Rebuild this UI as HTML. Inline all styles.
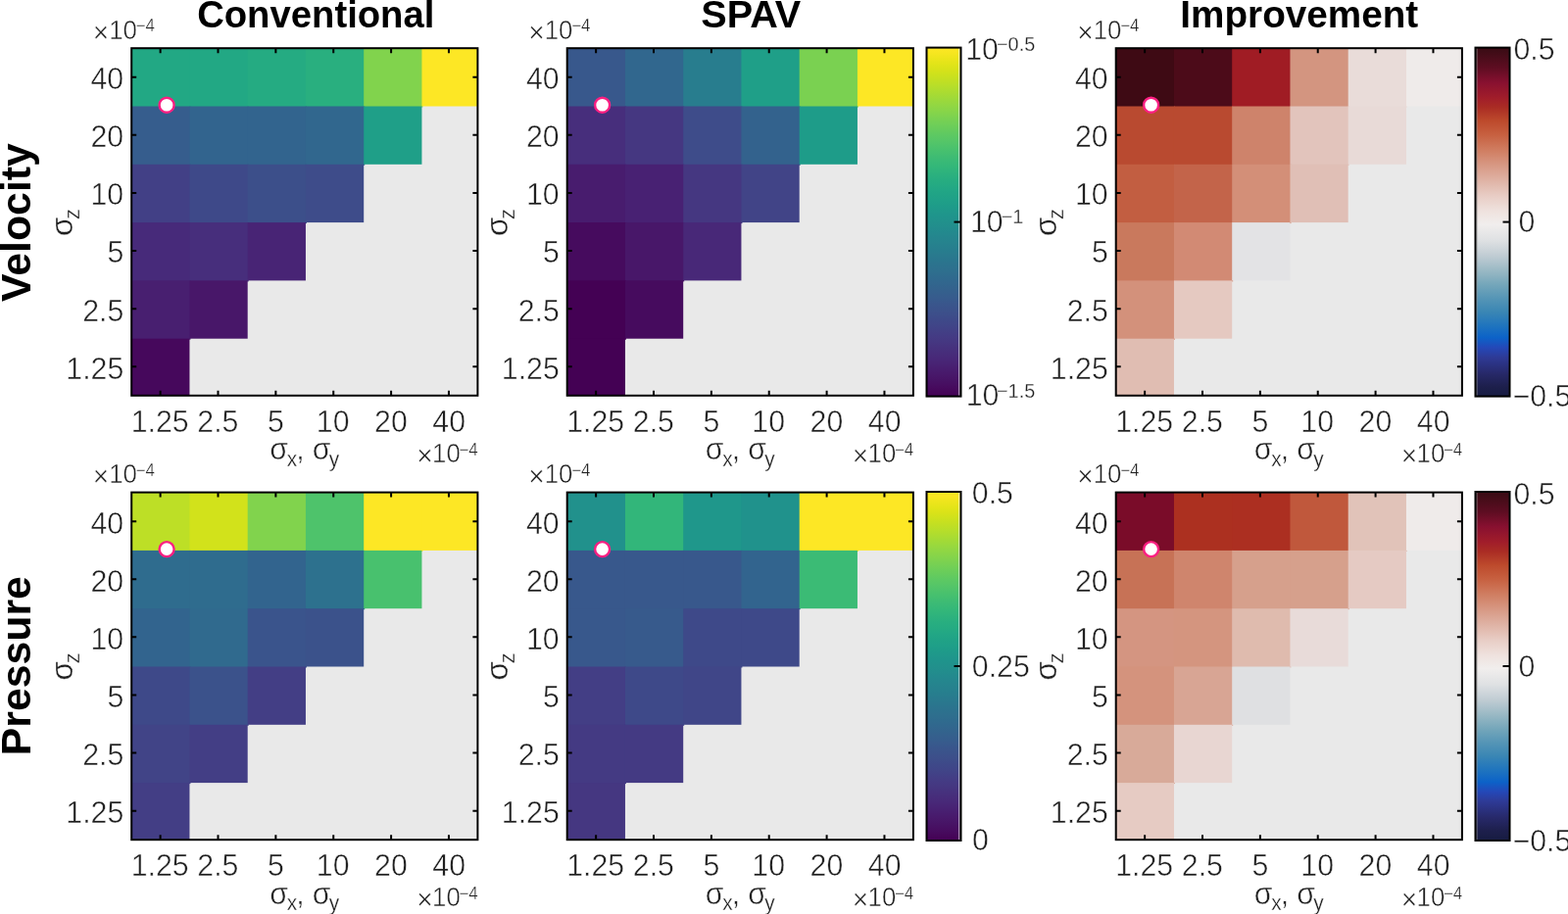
<!DOCTYPE html><html><head><meta charset="utf-8"><style>html,body{margin:0;padding:0;background:#fff;width:1600px;height:933px;overflow:hidden}svg{display:block}</style></head><body>
<svg width="1600" height="933" viewBox="0 0 1600 933">
<defs>
<linearGradient id="gv" x1="0" y1="0" x2="0" y2="1"><stop offset="0.000" stop-color="#fde725"/><stop offset="0.016" stop-color="#f6e620"/><stop offset="0.031" stop-color="#ece51b"/><stop offset="0.047" stop-color="#e2e418"/><stop offset="0.062" stop-color="#d8e219"/><stop offset="0.078" stop-color="#cde11d"/><stop offset="0.094" stop-color="#c2df23"/><stop offset="0.109" stop-color="#b8de29"/><stop offset="0.125" stop-color="#addc30"/><stop offset="0.141" stop-color="#a2da37"/><stop offset="0.156" stop-color="#98d83e"/><stop offset="0.172" stop-color="#8ed645"/><stop offset="0.188" stop-color="#84d44b"/><stop offset="0.203" stop-color="#7ad151"/><stop offset="0.219" stop-color="#70cf57"/><stop offset="0.234" stop-color="#67cc5c"/><stop offset="0.250" stop-color="#5ec962"/><stop offset="0.266" stop-color="#56c667"/><stop offset="0.281" stop-color="#4ec36b"/><stop offset="0.297" stop-color="#46c06f"/><stop offset="0.312" stop-color="#3fbc73"/><stop offset="0.328" stop-color="#38b977"/><stop offset="0.344" stop-color="#32b67a"/><stop offset="0.359" stop-color="#2db27d"/><stop offset="0.375" stop-color="#28ae80"/><stop offset="0.391" stop-color="#25ab82"/><stop offset="0.406" stop-color="#22a785"/><stop offset="0.422" stop-color="#20a386"/><stop offset="0.438" stop-color="#1fa088"/><stop offset="0.453" stop-color="#1e9c89"/><stop offset="0.469" stop-color="#1f988b"/><stop offset="0.484" stop-color="#1f948c"/><stop offset="0.500" stop-color="#21918c"/><stop offset="0.516" stop-color="#228d8d"/><stop offset="0.531" stop-color="#23898e"/><stop offset="0.547" stop-color="#25858e"/><stop offset="0.562" stop-color="#26828e"/><stop offset="0.578" stop-color="#277e8e"/><stop offset="0.594" stop-color="#297a8e"/><stop offset="0.609" stop-color="#2a768e"/><stop offset="0.625" stop-color="#2c728e"/><stop offset="0.641" stop-color="#2e6f8e"/><stop offset="0.656" stop-color="#2f6b8e"/><stop offset="0.672" stop-color="#31678e"/><stop offset="0.688" stop-color="#33638d"/><stop offset="0.703" stop-color="#355f8d"/><stop offset="0.719" stop-color="#375b8d"/><stop offset="0.734" stop-color="#39568c"/><stop offset="0.750" stop-color="#3b528b"/><stop offset="0.766" stop-color="#3d4e8a"/><stop offset="0.781" stop-color="#3e4989"/><stop offset="0.797" stop-color="#404588"/><stop offset="0.812" stop-color="#424086"/><stop offset="0.828" stop-color="#443b84"/><stop offset="0.844" stop-color="#453781"/><stop offset="0.859" stop-color="#46327e"/><stop offset="0.875" stop-color="#472d7b"/><stop offset="0.891" stop-color="#482878"/><stop offset="0.906" stop-color="#482374"/><stop offset="0.922" stop-color="#481d6f"/><stop offset="0.938" stop-color="#48186a"/><stop offset="0.953" stop-color="#471365"/><stop offset="0.969" stop-color="#470d60"/><stop offset="0.984" stop-color="#46075a"/><stop offset="1.000" stop-color="#440154"/></linearGradient>
<linearGradient id="gb" x1="0" y1="0" x2="0" y2="1"><stop offset="0.000" stop-color="rgb(60,11,20)"/><stop offset="0.010" stop-color="rgb(62,12,22)"/><stop offset="0.058" stop-color="rgb(94,13,34)"/><stop offset="0.100" stop-color="rgb(136,16,48)"/><stop offset="0.144" stop-color="rgb(161,29,42)"/><stop offset="0.171" stop-color="rgb(170,44,36)"/><stop offset="0.210" stop-color="rgb(189,74,44)"/><stop offset="0.250" stop-color="rgb(199,96,64)"/><stop offset="0.295" stop-color="rgb(208,126,98)"/><stop offset="0.340" stop-color="rgb(216,154,134)"/><stop offset="0.380" stop-color="rgb(223,178,164)"/><stop offset="0.425" stop-color="rgb(232,205,197)"/><stop offset="0.469" stop-color="rgb(239,226,222)"/><stop offset="0.507" stop-color="rgb(241,238,237)"/><stop offset="0.552" stop-color="rgb(223,225,227)"/><stop offset="0.597" stop-color="rgb(192,204,211)"/><stop offset="0.641" stop-color="rgb(152,184,196)"/><stop offset="0.680" stop-color="rgb(116,166,186)"/><stop offset="0.719" stop-color="rgb(85,149,182)"/><stop offset="0.758" stop-color="rgb(58,134,180)"/><stop offset="0.798" stop-color="rgb(31,116,190)"/><stop offset="0.832" stop-color="rgb(12,98,200)"/><stop offset="0.860" stop-color="rgb(36,72,184)"/><stop offset="0.888" stop-color="rgb(46,58,150)"/><stop offset="0.934" stop-color="rgb(39,41,106)"/><stop offset="0.972" stop-color="rgb(29,31,76)"/><stop offset="0.994" stop-color="rgb(24,28,67)"/><stop offset="1.000" stop-color="rgb(24,28,67)"/></linearGradient>
<clipPath id="ax00"><rect x="134.20" y="49.20" width="353.20" height="354.60"/></clipPath>
<clipPath id="ax01"><rect x="578.70" y="49.20" width="353.20" height="354.60"/></clipPath>
<clipPath id="ax02"><rect x="1138.70" y="49.20" width="353.20" height="354.60"/></clipPath>
<clipPath id="ax10"><rect x="134.20" y="502.60" width="353.20" height="354.60"/></clipPath>
<clipPath id="ax11"><rect x="578.70" y="502.60" width="353.20" height="354.60"/></clipPath>
<clipPath id="ax12"><rect x="1138.70" y="502.60" width="353.20" height="354.60"/></clipPath>
</defs>
<rect width="1600" height="933" fill="#fff"/>
<style>text{stroke:#fff;stroke-width:0.50px}text.s{stroke-width:0.3px}text.b{stroke:none}</style>
<g style="font-family:'Liberation Sans',Arial,sans-serif" fill="#202020">
<rect x="134.20" y="49.20" width="353.20" height="354.60" fill="#e9e9e9"/>
<g clip-path="url(#ax00)">
<rect x="134.20" y="49.20" width="60.25" height="60.30" fill="#22a884"/>
<rect x="193.45" y="49.20" width="60.25" height="60.30" fill="#22a884"/>
<rect x="252.70" y="49.20" width="60.25" height="60.30" fill="#25ab82"/>
<rect x="311.95" y="49.20" width="60.25" height="60.30" fill="#29af7f"/>
<rect x="371.20" y="49.20" width="60.25" height="60.30" fill="#81d34d"/>
<rect x="430.45" y="49.20" width="60.25" height="59.30" fill="#fde725"/>
<rect x="134.20" y="108.50" width="60.25" height="60.30" fill="#365d8d"/>
<rect x="193.45" y="108.50" width="60.25" height="60.30" fill="#32648e"/>
<rect x="252.70" y="108.50" width="60.25" height="60.30" fill="#32648e"/>
<rect x="311.95" y="108.50" width="60.25" height="60.30" fill="#31678e"/>
<rect x="371.20" y="108.50" width="59.25" height="59.30" fill="#1f9f88"/>
<rect x="134.20" y="167.80" width="60.25" height="60.30" fill="#424086"/>
<rect x="193.45" y="167.80" width="60.25" height="60.30" fill="#3e4989"/>
<rect x="252.70" y="167.80" width="60.25" height="60.30" fill="#3c4f8a"/>
<rect x="311.95" y="167.80" width="59.25" height="59.30" fill="#3e4c8a"/>
<rect x="134.20" y="227.10" width="60.25" height="60.30" fill="#472a7a"/>
<rect x="193.45" y="227.10" width="60.25" height="60.30" fill="#472e7c"/>
<rect x="252.70" y="227.10" width="59.25" height="59.30" fill="#482475"/>
<rect x="134.20" y="286.40" width="60.25" height="60.30" fill="#481f70"/>
<rect x="193.45" y="286.40" width="59.25" height="59.30" fill="#481769"/>
<rect x="134.20" y="345.70" width="59.25" height="60.30" fill="#46085c"/>
</g>
<circle cx="170.10" cy="107.20" r="7.5" fill="#fff" stroke="#fb1f82" stroke-width="2.4"/>
<path d="M163.63 49.20v5M163.63 403.80v-5M134.20 78.75h5M487.40 78.75h-5M222.50 49.20v5M222.50 403.80v-5M134.20 137.85h5M487.40 137.85h-5M281.37 49.20v5M281.37 403.80v-5M134.20 196.95h5M487.40 196.95h-5M340.23 49.20v5M340.23 403.80v-5M134.20 256.05h5M487.40 256.05h-5M399.10 49.20v5M399.10 403.80v-5M134.20 315.15h5M487.40 315.15h-5M457.97 49.20v5M457.97 403.80v-5M134.20 374.25h5M487.40 374.25h-5" stroke="#000" stroke-width="2" fill="none"/>
<rect x="134.20" y="49.20" width="353.20" height="354.60" fill="none" stroke="#000" stroke-width="2"/>
<rect x="578.70" y="49.20" width="353.20" height="354.60" fill="#e9e9e9"/>
<g clip-path="url(#ax01)">
<rect x="578.70" y="49.20" width="60.25" height="60.30" fill="#38588c"/>
<rect x="637.95" y="49.20" width="60.25" height="60.30" fill="#31678e"/>
<rect x="697.20" y="49.20" width="60.25" height="60.30" fill="#287d8e"/>
<rect x="756.45" y="49.20" width="60.25" height="60.30" fill="#1f9f88"/>
<rect x="815.70" y="49.20" width="60.25" height="60.30" fill="#7ad151"/>
<rect x="874.95" y="49.20" width="60.25" height="59.30" fill="#fde725"/>
<rect x="578.70" y="108.50" width="60.25" height="60.30" fill="#472e7c"/>
<rect x="637.95" y="108.50" width="60.25" height="60.30" fill="#453781"/>
<rect x="697.20" y="108.50" width="60.25" height="60.30" fill="#3e4c8a"/>
<rect x="756.45" y="108.50" width="60.25" height="60.30" fill="#33628d"/>
<rect x="815.70" y="108.50" width="59.25" height="59.30" fill="#1e9c89"/>
<rect x="578.70" y="167.80" width="60.25" height="60.30" fill="#481c6e"/>
<rect x="637.95" y="167.80" width="60.25" height="60.30" fill="#482173"/>
<rect x="697.20" y="167.80" width="60.25" height="60.30" fill="#453781"/>
<rect x="756.45" y="167.80" width="59.25" height="59.30" fill="#414487"/>
<rect x="578.70" y="227.10" width="60.25" height="60.30" fill="#460b5e"/>
<rect x="637.95" y="227.10" width="60.25" height="60.30" fill="#481769"/>
<rect x="697.20" y="227.10" width="59.25" height="59.30" fill="#482878"/>
<rect x="578.70" y="286.40" width="60.25" height="60.30" fill="#440154"/>
<rect x="637.95" y="286.40" width="59.25" height="59.30" fill="#460b5e"/>
<rect x="578.70" y="345.70" width="59.25" height="60.30" fill="#440154"/>
</g>
<circle cx="614.60" cy="107.20" r="7.5" fill="#fff" stroke="#fb1f82" stroke-width="2.4"/>
<path d="M608.13 49.20v5M608.13 403.80v-5M578.70 78.75h5M931.90 78.75h-5M667.00 49.20v5M667.00 403.80v-5M578.70 137.85h5M931.90 137.85h-5M725.87 49.20v5M725.87 403.80v-5M578.70 196.95h5M931.90 196.95h-5M784.73 49.20v5M784.73 403.80v-5M578.70 256.05h5M931.90 256.05h-5M843.60 49.20v5M843.60 403.80v-5M578.70 315.15h5M931.90 315.15h-5M902.47 49.20v5M902.47 403.80v-5M578.70 374.25h5M931.90 374.25h-5" stroke="#000" stroke-width="2" fill="none"/>
<rect x="578.70" y="49.20" width="353.20" height="354.60" fill="none" stroke="#000" stroke-width="2"/>
<rect x="1138.70" y="49.20" width="353.20" height="354.60" fill="#e9e9e9"/>
<g clip-path="url(#ax02)">
<rect x="1138.70" y="49.20" width="60.25" height="60.30" fill="#3e0a14"/>
<rect x="1197.95" y="49.20" width="60.25" height="60.30" fill="#4c0b19"/>
<rect x="1257.20" y="49.20" width="60.25" height="60.30" fill="#a01c24"/>
<rect x="1316.45" y="49.20" width="60.25" height="60.30" fill="#d39580"/>
<rect x="1375.70" y="49.20" width="60.25" height="60.30" fill="#e9dcd9"/>
<rect x="1434.95" y="49.20" width="60.25" height="59.30" fill="#efebea"/>
<rect x="1138.70" y="108.50" width="60.25" height="60.30" fill="#b94a30"/>
<rect x="1197.95" y="108.50" width="60.25" height="60.30" fill="#b94a30"/>
<rect x="1257.20" y="108.50" width="60.25" height="60.30" fill="#ce836b"/>
<rect x="1316.45" y="108.50" width="60.25" height="60.30" fill="#e2c4bc"/>
<rect x="1375.70" y="108.50" width="59.25" height="59.30" fill="#e8dad7"/>
<rect x="1138.70" y="167.80" width="60.25" height="60.30" fill="#c25e41"/>
<rect x="1197.95" y="167.80" width="60.25" height="60.30" fill="#c3644a"/>
<rect x="1257.20" y="167.80" width="60.25" height="60.30" fill="#d38f78"/>
<rect x="1316.45" y="167.80" width="59.25" height="59.30" fill="#e0bfb6"/>
<rect x="1138.70" y="227.10" width="60.25" height="60.30" fill="#c9795d"/>
<rect x="1197.95" y="227.10" width="60.25" height="60.30" fill="#d28a74"/>
<rect x="1257.20" y="227.10" width="59.25" height="59.30" fill="#e3e3e5"/>
<rect x="1138.70" y="286.40" width="60.25" height="60.30" fill="#d3917b"/>
<rect x="1197.95" y="286.40" width="59.25" height="59.30" fill="#e5c9c1"/>
<rect x="1138.70" y="345.70" width="59.25" height="60.30" fill="#e0bdb2"/>
</g>
<circle cx="1174.60" cy="107.20" r="7.5" fill="#fff" stroke="#fb1f82" stroke-width="2.4"/>
<path d="M1168.13 49.20v5M1168.13 403.80v-5M1138.70 78.75h5M1491.90 78.75h-5M1227.00 49.20v5M1227.00 403.80v-5M1138.70 137.85h5M1491.90 137.85h-5M1285.87 49.20v5M1285.87 403.80v-5M1138.70 196.95h5M1491.90 196.95h-5M1344.73 49.20v5M1344.73 403.80v-5M1138.70 256.05h5M1491.90 256.05h-5M1403.60 49.20v5M1403.60 403.80v-5M1138.70 315.15h5M1491.90 315.15h-5M1462.47 49.20v5M1462.47 403.80v-5M1138.70 374.25h5M1491.90 374.25h-5" stroke="#000" stroke-width="2" fill="none"/>
<rect x="1138.70" y="49.20" width="353.20" height="354.60" fill="none" stroke="#000" stroke-width="2"/>
<rect x="134.20" y="502.60" width="353.20" height="354.60" fill="#e9e9e9"/>
<g clip-path="url(#ax10)">
<rect x="134.20" y="502.60" width="60.25" height="60.30" fill="#bddf26"/>
<rect x="193.45" y="502.60" width="60.25" height="60.30" fill="#d2e21b"/>
<rect x="252.70" y="502.60" width="60.25" height="60.30" fill="#81d34d"/>
<rect x="311.95" y="502.60" width="60.25" height="60.30" fill="#4ec36b"/>
<rect x="371.20" y="502.60" width="60.25" height="60.30" fill="#fde725"/>
<rect x="430.45" y="502.60" width="60.25" height="59.30" fill="#fde725"/>
<rect x="134.20" y="561.90" width="60.25" height="60.30" fill="#2f6c8e"/>
<rect x="193.45" y="561.90" width="60.25" height="60.30" fill="#2f6c8e"/>
<rect x="252.70" y="561.90" width="60.25" height="60.30" fill="#32648e"/>
<rect x="311.95" y="561.90" width="60.25" height="60.30" fill="#2d718e"/>
<rect x="371.20" y="561.90" width="59.25" height="59.30" fill="#48c16e"/>
<rect x="134.20" y="621.20" width="60.25" height="60.30" fill="#32648e"/>
<rect x="193.45" y="621.20" width="60.25" height="60.30" fill="#306a8e"/>
<rect x="252.70" y="621.20" width="60.25" height="60.30" fill="#3a548c"/>
<rect x="311.95" y="621.20" width="59.25" height="59.30" fill="#3b528b"/>
<rect x="134.20" y="680.50" width="60.25" height="60.30" fill="#3e4989"/>
<rect x="193.45" y="680.50" width="60.25" height="60.30" fill="#3b528b"/>
<rect x="252.70" y="680.50" width="59.25" height="59.30" fill="#433e85"/>
<rect x="134.20" y="739.80" width="60.25" height="60.30" fill="#414487"/>
<rect x="193.45" y="739.80" width="59.25" height="59.30" fill="#433e85"/>
<rect x="134.20" y="799.10" width="59.25" height="60.30" fill="#433e85"/>
</g>
<circle cx="170.10" cy="560.60" r="7.5" fill="#fff" stroke="#fb1f82" stroke-width="2.4"/>
<path d="M163.63 502.60v5M163.63 857.20v-5M134.20 532.15h5M487.40 532.15h-5M222.50 502.60v5M222.50 857.20v-5M134.20 591.25h5M487.40 591.25h-5M281.37 502.60v5M281.37 857.20v-5M134.20 650.35h5M487.40 650.35h-5M340.23 502.60v5M340.23 857.20v-5M134.20 709.45h5M487.40 709.45h-5M399.10 502.60v5M399.10 857.20v-5M134.20 768.55h5M487.40 768.55h-5M457.97 502.60v5M457.97 857.20v-5M134.20 827.65h5M487.40 827.65h-5" stroke="#000" stroke-width="2" fill="none"/>
<rect x="134.20" y="502.60" width="353.20" height="354.60" fill="none" stroke="#000" stroke-width="2"/>
<rect x="578.70" y="502.60" width="353.20" height="354.60" fill="#e9e9e9"/>
<g clip-path="url(#ax11)">
<rect x="578.70" y="502.60" width="60.25" height="60.30" fill="#21918c"/>
<rect x="637.95" y="502.60" width="60.25" height="60.30" fill="#32b67a"/>
<rect x="697.20" y="502.60" width="60.25" height="60.30" fill="#1f978b"/>
<rect x="756.45" y="502.60" width="60.25" height="60.30" fill="#20928c"/>
<rect x="815.70" y="502.60" width="60.25" height="60.30" fill="#fde725"/>
<rect x="874.95" y="502.60" width="60.25" height="59.30" fill="#fde725"/>
<rect x="578.70" y="561.90" width="60.25" height="60.30" fill="#38588c"/>
<rect x="637.95" y="561.90" width="60.25" height="60.30" fill="#38588c"/>
<rect x="697.20" y="561.90" width="60.25" height="60.30" fill="#38588c"/>
<rect x="756.45" y="561.90" width="60.25" height="60.30" fill="#32648e"/>
<rect x="815.70" y="561.90" width="59.25" height="59.30" fill="#3bbb75"/>
<rect x="578.70" y="621.20" width="60.25" height="60.30" fill="#38588c"/>
<rect x="637.95" y="621.20" width="60.25" height="60.30" fill="#375a8c"/>
<rect x="697.20" y="621.20" width="60.25" height="60.30" fill="#3e4989"/>
<rect x="756.45" y="621.20" width="59.25" height="59.30" fill="#3e4989"/>
<rect x="578.70" y="680.50" width="60.25" height="60.30" fill="#433e85"/>
<rect x="637.95" y="680.50" width="60.25" height="60.30" fill="#3e4989"/>
<rect x="697.20" y="680.50" width="59.25" height="59.30" fill="#404688"/>
<rect x="578.70" y="739.80" width="60.25" height="60.30" fill="#443a83"/>
<rect x="637.95" y="739.80" width="59.25" height="59.30" fill="#443a83"/>
<rect x="578.70" y="799.10" width="59.25" height="60.30" fill="#453781"/>
</g>
<circle cx="614.60" cy="560.60" r="7.5" fill="#fff" stroke="#fb1f82" stroke-width="2.4"/>
<path d="M608.13 502.60v5M608.13 857.20v-5M578.70 532.15h5M931.90 532.15h-5M667.00 502.60v5M667.00 857.20v-5M578.70 591.25h5M931.90 591.25h-5M725.87 502.60v5M725.87 857.20v-5M578.70 650.35h5M931.90 650.35h-5M784.73 502.60v5M784.73 857.20v-5M578.70 709.45h5M931.90 709.45h-5M843.60 502.60v5M843.60 857.20v-5M578.70 768.55h5M931.90 768.55h-5M902.47 502.60v5M902.47 857.20v-5M578.70 827.65h5M931.90 827.65h-5" stroke="#000" stroke-width="2" fill="none"/>
<rect x="578.70" y="502.60" width="353.20" height="354.60" fill="none" stroke="#000" stroke-width="2"/>
<rect x="1138.70" y="502.60" width="353.20" height="354.60" fill="#e9e9e9"/>
<g clip-path="url(#ax12)">
<rect x="1138.70" y="502.60" width="60.25" height="60.30" fill="#7a0c29"/>
<rect x="1197.95" y="502.60" width="60.25" height="60.30" fill="#ac3020"/>
<rect x="1257.20" y="502.60" width="60.25" height="60.30" fill="#ac2f21"/>
<rect x="1316.45" y="502.60" width="60.25" height="60.30" fill="#c0583c"/>
<rect x="1375.70" y="502.60" width="60.25" height="60.30" fill="#e1c3b9"/>
<rect x="1434.95" y="502.60" width="60.25" height="59.30" fill="#efebea"/>
<rect x="1138.70" y="561.90" width="60.25" height="60.30" fill="#c77256"/>
<rect x="1197.95" y="561.90" width="60.25" height="60.30" fill="#cf856d"/>
<rect x="1257.20" y="561.90" width="60.25" height="60.30" fill="#d6a08c"/>
<rect x="1316.45" y="561.90" width="60.25" height="60.30" fill="#d6a08c"/>
<rect x="1375.70" y="561.90" width="59.25" height="59.30" fill="#e5cac3"/>
<rect x="1138.70" y="621.20" width="60.25" height="60.30" fill="#d49581"/>
<rect x="1197.95" y="621.20" width="60.25" height="60.30" fill="#d4957f"/>
<rect x="1257.20" y="621.20" width="60.25" height="60.30" fill="#dfbbae"/>
<rect x="1316.45" y="621.20" width="59.25" height="59.30" fill="#e8dbd9"/>
<rect x="1138.70" y="680.50" width="60.25" height="60.30" fill="#d4937d"/>
<rect x="1197.95" y="680.50" width="60.25" height="60.30" fill="#d8a594"/>
<rect x="1257.20" y="680.50" width="59.25" height="59.30" fill="#dfe0e2"/>
<rect x="1138.70" y="739.80" width="60.25" height="60.30" fill="#d8aa99"/>
<rect x="1197.95" y="739.80" width="59.25" height="59.30" fill="#e8d6d2"/>
<rect x="1138.70" y="799.10" width="59.25" height="60.30" fill="#e6cbc3"/>
</g>
<circle cx="1174.60" cy="560.60" r="7.5" fill="#fff" stroke="#fb1f82" stroke-width="2.4"/>
<path d="M1168.13 502.60v5M1168.13 857.20v-5M1138.70 532.15h5M1491.90 532.15h-5M1227.00 502.60v5M1227.00 857.20v-5M1138.70 591.25h5M1491.90 591.25h-5M1285.87 502.60v5M1285.87 857.20v-5M1138.70 650.35h5M1491.90 650.35h-5M1344.73 502.60v5M1344.73 857.20v-5M1138.70 709.45h5M1491.90 709.45h-5M1403.60 502.60v5M1403.60 857.20v-5M1138.70 768.55h5M1491.90 768.55h-5M1462.47 502.60v5M1462.47 857.20v-5M1138.70 827.65h5M1491.90 827.65h-5" stroke="#000" stroke-width="2" fill="none"/>
<rect x="1138.70" y="502.60" width="353.20" height="354.60" fill="none" stroke="#000" stroke-width="2"/>
<text transform="matrix(0.9680 0 0 1 92.49 91.14)" font-size="31.30">40</text>
<text transform="matrix(0.9680 0 0 1 133.64 440.89)" font-size="31.30">1.25</text>
<text transform="matrix(0.9680 0 0 1 92.49 150.24)" font-size="31.30">20</text>
<text transform="matrix(0.9680 0 0 1 201.32 440.89)" font-size="31.30">2.5</text>
<text transform="matrix(0.9680 0 0 1 92.49 209.34)" font-size="31.30">10</text>
<text transform="matrix(0.9680 0 0 1 272.97 440.89)" font-size="31.30">5</text>
<text transform="matrix(0.9680 0 0 1 109.43 268.44)" font-size="31.30">5</text>
<text transform="matrix(0.9680 0 0 1 322.83 440.89)" font-size="31.30">10</text>
<text transform="matrix(0.9680 0 0 1 84.16 327.54)" font-size="31.30">2.5</text>
<text transform="matrix(0.9680 0 0 1 382.09 440.89)" font-size="31.30">20</text>
<text transform="matrix(0.9680 0 0 1 67.31 386.64)" font-size="31.30">1.25</text>
<text transform="matrix(0.9680 0 0 1 441.36 440.89)" font-size="31.30">40</text>
<text transform="matrix(0.9680 0 0 1 275.23 469.19)" font-size="31.30">σ</text>
<text transform="matrix(0.9680 0 0 1 292.75 476.00)" font-size="21.50" class="s">x</text>
<text transform="matrix(0.9680 0 0 1 302.27 469.20)" font-size="31.30">,</text>
<text transform="matrix(0.9680 0 0 1 318.73 469.19)" font-size="31.30">σ</text>
<text transform="matrix(0.9680 0 0 1 335.74 475.50)" font-size="21.50" class="s">y</text>
<text transform="matrix(0.9680 0 0 1 425.33 474.69)" font-size="29.00">×</text>
<text transform="matrix(0.9680 0 0 1 441.04 472.03)" font-size="26.70">10</text>
<text transform="matrix(0.9680 0 0 1 468.47 464.80)" font-size="17.50" class="s">−4</text>
<text transform="matrix(0.9680 0 0 1 94.63 42.89)" font-size="29.00">×</text>
<text transform="matrix(0.9680 0 0 1 111.24 39.93)" font-size="26.70">10</text>
<text transform="matrix(0.9680 0 0 1 138.67 32.40)" font-size="17.50" class="s">−4</text>
<text transform="translate(73.90 241.00) rotate(-90)" font-size="31.3" class="s">σ</text>
<text transform="translate(80.80 223.90) rotate(-90)" font-size="21.5" class="s">z</text>
<text transform="matrix(0.9680 0 0 1 536.99 91.14)" font-size="31.30">40</text>
<text transform="matrix(0.9680 0 0 1 578.14 440.89)" font-size="31.30">1.25</text>
<text transform="matrix(0.9680 0 0 1 536.99 150.24)" font-size="31.30">20</text>
<text transform="matrix(0.9680 0 0 1 645.82 440.89)" font-size="31.30">2.5</text>
<text transform="matrix(0.9680 0 0 1 536.99 209.34)" font-size="31.30">10</text>
<text transform="matrix(0.9680 0 0 1 717.47 440.89)" font-size="31.30">5</text>
<text transform="matrix(0.9680 0 0 1 553.93 268.44)" font-size="31.30">5</text>
<text transform="matrix(0.9680 0 0 1 767.33 440.89)" font-size="31.30">10</text>
<text transform="matrix(0.9680 0 0 1 528.66 327.54)" font-size="31.30">2.5</text>
<text transform="matrix(0.9680 0 0 1 826.59 440.89)" font-size="31.30">20</text>
<text transform="matrix(0.9680 0 0 1 511.81 386.64)" font-size="31.30">1.25</text>
<text transform="matrix(0.9680 0 0 1 885.86 440.89)" font-size="31.30">40</text>
<text transform="matrix(0.9680 0 0 1 719.73 469.19)" font-size="31.30">σ</text>
<text transform="matrix(0.9680 0 0 1 737.25 476.00)" font-size="21.50" class="s">x</text>
<text transform="matrix(0.9680 0 0 1 746.77 469.20)" font-size="31.30">,</text>
<text transform="matrix(0.9680 0 0 1 763.23 469.19)" font-size="31.30">σ</text>
<text transform="matrix(0.9680 0 0 1 780.24 475.50)" font-size="21.50" class="s">y</text>
<text transform="matrix(0.9680 0 0 1 869.83 474.69)" font-size="29.00">×</text>
<text transform="matrix(0.9680 0 0 1 885.54 472.03)" font-size="26.70">10</text>
<text transform="matrix(0.9680 0 0 1 912.97 464.80)" font-size="17.50" class="s">−4</text>
<text transform="matrix(0.9680 0 0 1 539.13 42.89)" font-size="29.00">×</text>
<text transform="matrix(0.9680 0 0 1 555.74 39.93)" font-size="26.70">10</text>
<text transform="matrix(0.9680 0 0 1 583.17 32.40)" font-size="17.50" class="s">−4</text>
<text transform="translate(518.40 241.00) rotate(-90)" font-size="31.3" class="s">σ</text>
<text transform="translate(525.30 223.90) rotate(-90)" font-size="21.5" class="s">z</text>
<text transform="matrix(0.9680 0 0 1 1096.99 91.14)" font-size="31.30">40</text>
<text transform="matrix(0.9680 0 0 1 1138.14 440.89)" font-size="31.30">1.25</text>
<text transform="matrix(0.9680 0 0 1 1096.99 150.24)" font-size="31.30">20</text>
<text transform="matrix(0.9680 0 0 1 1205.82 440.89)" font-size="31.30">2.5</text>
<text transform="matrix(0.9680 0 0 1 1096.99 209.34)" font-size="31.30">10</text>
<text transform="matrix(0.9680 0 0 1 1277.47 440.89)" font-size="31.30">5</text>
<text transform="matrix(0.9680 0 0 1 1113.93 268.44)" font-size="31.30">5</text>
<text transform="matrix(0.9680 0 0 1 1327.33 440.89)" font-size="31.30">10</text>
<text transform="matrix(0.9680 0 0 1 1088.66 327.54)" font-size="31.30">2.5</text>
<text transform="matrix(0.9680 0 0 1 1386.59 440.89)" font-size="31.30">20</text>
<text transform="matrix(0.9680 0 0 1 1071.81 386.64)" font-size="31.30">1.25</text>
<text transform="matrix(0.9680 0 0 1 1445.86 440.89)" font-size="31.30">40</text>
<text transform="matrix(0.9680 0 0 1 1279.73 469.19)" font-size="31.30">σ</text>
<text transform="matrix(0.9680 0 0 1 1297.25 476.00)" font-size="21.50" class="s">x</text>
<text transform="matrix(0.9680 0 0 1 1306.77 469.20)" font-size="31.30">,</text>
<text transform="matrix(0.9680 0 0 1 1323.23 469.19)" font-size="31.30">σ</text>
<text transform="matrix(0.9680 0 0 1 1340.24 475.50)" font-size="21.50" class="s">y</text>
<text transform="matrix(0.9680 0 0 1 1429.83 474.69)" font-size="29.00">×</text>
<text transform="matrix(0.9680 0 0 1 1445.54 472.03)" font-size="26.70">10</text>
<text transform="matrix(0.9680 0 0 1 1472.97 464.80)" font-size="17.50" class="s">−4</text>
<text transform="matrix(0.9680 0 0 1 1099.13 42.89)" font-size="29.00">×</text>
<text transform="matrix(0.9680 0 0 1 1115.74 39.93)" font-size="26.70">10</text>
<text transform="matrix(0.9680 0 0 1 1143.17 32.40)" font-size="17.50" class="s">−4</text>
<text transform="translate(1078.40 241.00) rotate(-90)" font-size="31.3" class="s">σ</text>
<text transform="translate(1085.30 223.90) rotate(-90)" font-size="21.5" class="s">z</text>
<text transform="matrix(0.9680 0 0 1 92.49 544.54)" font-size="31.30">40</text>
<text transform="matrix(0.9680 0 0 1 133.64 894.29)" font-size="31.30">1.25</text>
<text transform="matrix(0.9680 0 0 1 92.49 603.64)" font-size="31.30">20</text>
<text transform="matrix(0.9680 0 0 1 201.32 894.29)" font-size="31.30">2.5</text>
<text transform="matrix(0.9680 0 0 1 92.49 662.74)" font-size="31.30">10</text>
<text transform="matrix(0.9680 0 0 1 272.97 894.29)" font-size="31.30">5</text>
<text transform="matrix(0.9680 0 0 1 109.43 721.84)" font-size="31.30">5</text>
<text transform="matrix(0.9680 0 0 1 322.83 894.29)" font-size="31.30">10</text>
<text transform="matrix(0.9680 0 0 1 84.16 780.94)" font-size="31.30">2.5</text>
<text transform="matrix(0.9680 0 0 1 382.09 894.29)" font-size="31.30">20</text>
<text transform="matrix(0.9680 0 0 1 67.31 840.04)" font-size="31.30">1.25</text>
<text transform="matrix(0.9680 0 0 1 441.36 894.29)" font-size="31.30">40</text>
<text transform="matrix(0.9680 0 0 1 275.23 922.59)" font-size="31.30">σ</text>
<text transform="matrix(0.9680 0 0 1 292.75 929.40)" font-size="21.50" class="s">x</text>
<text transform="matrix(0.9680 0 0 1 302.27 922.60)" font-size="31.30">,</text>
<text transform="matrix(0.9680 0 0 1 318.73 922.59)" font-size="31.30">σ</text>
<text transform="matrix(0.9680 0 0 1 335.74 928.90)" font-size="21.50" class="s">y</text>
<text transform="matrix(0.9680 0 0 1 425.33 928.09)" font-size="29.00">×</text>
<text transform="matrix(0.9680 0 0 1 441.04 925.43)" font-size="26.70">10</text>
<text transform="matrix(0.9680 0 0 1 468.47 918.20)" font-size="17.50" class="s">−4</text>
<text transform="matrix(0.9680 0 0 1 94.63 496.29)" font-size="29.00">×</text>
<text transform="matrix(0.9680 0 0 1 111.24 493.33)" font-size="26.70">10</text>
<text transform="matrix(0.9680 0 0 1 138.67 485.80)" font-size="17.50" class="s">−4</text>
<text transform="translate(73.90 694.40) rotate(-90)" font-size="31.3" class="s">σ</text>
<text transform="translate(80.80 677.30) rotate(-90)" font-size="21.5" class="s">z</text>
<text transform="matrix(0.9680 0 0 1 536.99 544.54)" font-size="31.30">40</text>
<text transform="matrix(0.9680 0 0 1 578.14 894.29)" font-size="31.30">1.25</text>
<text transform="matrix(0.9680 0 0 1 536.99 603.64)" font-size="31.30">20</text>
<text transform="matrix(0.9680 0 0 1 645.82 894.29)" font-size="31.30">2.5</text>
<text transform="matrix(0.9680 0 0 1 536.99 662.74)" font-size="31.30">10</text>
<text transform="matrix(0.9680 0 0 1 717.47 894.29)" font-size="31.30">5</text>
<text transform="matrix(0.9680 0 0 1 553.93 721.84)" font-size="31.30">5</text>
<text transform="matrix(0.9680 0 0 1 767.33 894.29)" font-size="31.30">10</text>
<text transform="matrix(0.9680 0 0 1 528.66 780.94)" font-size="31.30">2.5</text>
<text transform="matrix(0.9680 0 0 1 826.59 894.29)" font-size="31.30">20</text>
<text transform="matrix(0.9680 0 0 1 511.81 840.04)" font-size="31.30">1.25</text>
<text transform="matrix(0.9680 0 0 1 885.86 894.29)" font-size="31.30">40</text>
<text transform="matrix(0.9680 0 0 1 719.73 922.59)" font-size="31.30">σ</text>
<text transform="matrix(0.9680 0 0 1 737.25 929.40)" font-size="21.50" class="s">x</text>
<text transform="matrix(0.9680 0 0 1 746.77 922.60)" font-size="31.30">,</text>
<text transform="matrix(0.9680 0 0 1 763.23 922.59)" font-size="31.30">σ</text>
<text transform="matrix(0.9680 0 0 1 780.24 928.90)" font-size="21.50" class="s">y</text>
<text transform="matrix(0.9680 0 0 1 869.83 928.09)" font-size="29.00">×</text>
<text transform="matrix(0.9680 0 0 1 885.54 925.43)" font-size="26.70">10</text>
<text transform="matrix(0.9680 0 0 1 912.97 918.20)" font-size="17.50" class="s">−4</text>
<text transform="matrix(0.9680 0 0 1 539.13 496.29)" font-size="29.00">×</text>
<text transform="matrix(0.9680 0 0 1 555.74 493.33)" font-size="26.70">10</text>
<text transform="matrix(0.9680 0 0 1 583.17 485.80)" font-size="17.50" class="s">−4</text>
<text transform="translate(518.40 694.40) rotate(-90)" font-size="31.3" class="s">σ</text>
<text transform="translate(525.30 677.30) rotate(-90)" font-size="21.5" class="s">z</text>
<text transform="matrix(0.9680 0 0 1 1096.99 544.54)" font-size="31.30">40</text>
<text transform="matrix(0.9680 0 0 1 1138.14 894.29)" font-size="31.30">1.25</text>
<text transform="matrix(0.9680 0 0 1 1096.99 603.64)" font-size="31.30">20</text>
<text transform="matrix(0.9680 0 0 1 1205.82 894.29)" font-size="31.30">2.5</text>
<text transform="matrix(0.9680 0 0 1 1096.99 662.74)" font-size="31.30">10</text>
<text transform="matrix(0.9680 0 0 1 1277.47 894.29)" font-size="31.30">5</text>
<text transform="matrix(0.9680 0 0 1 1113.93 721.84)" font-size="31.30">5</text>
<text transform="matrix(0.9680 0 0 1 1327.33 894.29)" font-size="31.30">10</text>
<text transform="matrix(0.9680 0 0 1 1088.66 780.94)" font-size="31.30">2.5</text>
<text transform="matrix(0.9680 0 0 1 1386.59 894.29)" font-size="31.30">20</text>
<text transform="matrix(0.9680 0 0 1 1071.81 840.04)" font-size="31.30">1.25</text>
<text transform="matrix(0.9680 0 0 1 1445.86 894.29)" font-size="31.30">40</text>
<text transform="matrix(0.9680 0 0 1 1279.73 922.59)" font-size="31.30">σ</text>
<text transform="matrix(0.9680 0 0 1 1297.25 929.40)" font-size="21.50" class="s">x</text>
<text transform="matrix(0.9680 0 0 1 1306.77 922.60)" font-size="31.30">,</text>
<text transform="matrix(0.9680 0 0 1 1323.23 922.59)" font-size="31.30">σ</text>
<text transform="matrix(0.9680 0 0 1 1340.24 928.90)" font-size="21.50" class="s">y</text>
<text transform="matrix(0.9680 0 0 1 1429.83 928.09)" font-size="29.00">×</text>
<text transform="matrix(0.9680 0 0 1 1445.54 925.43)" font-size="26.70">10</text>
<text transform="matrix(0.9680 0 0 1 1472.97 918.20)" font-size="17.50" class="s">−4</text>
<text transform="matrix(0.9680 0 0 1 1099.13 496.29)" font-size="29.00">×</text>
<text transform="matrix(0.9680 0 0 1 1115.74 493.33)" font-size="26.70">10</text>
<text transform="matrix(0.9680 0 0 1 1143.17 485.80)" font-size="17.50" class="s">−4</text>
<text transform="translate(1078.40 694.40) rotate(-90)" font-size="31.3" class="s">σ</text>
<text transform="translate(1085.30 677.30) rotate(-90)" font-size="21.5" class="s">z</text>
<text x="201.13" y="28.30" font-size="38.25" text-anchor="start" class="b" font-weight="bold" fill="#000">Conventional</text>
<text x="715.35" y="28.30" font-size="39.60" text-anchor="start" class="b" font-weight="bold" fill="#000">SPAV</text>
<text x="1204.31" y="28.30" font-size="38.70" text-anchor="start" class="b" font-weight="bold" fill="#000">Improvement</text>
<text transform="translate(30.8 307.93) rotate(-90)" font-size="42.80" class="b" font-weight="bold" fill="#000">Velocity</text>
<text transform="translate(30.8 771.32) rotate(-90)" font-size="42.80" class="b" font-weight="bold" fill="#000">Pressure</text>
<rect x="945.50" y="48.60" width="35.00" height="356.00" fill="url(#gv)"/>
<rect x="978.10" y="48.60" width="1.2" height="356.00" fill="#fff" fill-opacity="0.6"/>
<path d="M980.50 226.60h-7" stroke="#000" stroke-width="2"/>
<rect x="945.50" y="48.60" width="35.00" height="356.00" fill="none" stroke="#000" stroke-width="2"/>
<rect x="1505.50" y="48.60" width="35.00" height="356.00" fill="url(#gb)"/>
<rect x="1506.50" y="48.60" width="1.0" height="356.00" fill="#9a9a9a" fill-opacity="0.75"/>
<path d="M1540.50 226.60h-7" stroke="#000" stroke-width="2"/>
<rect x="1505.50" y="48.60" width="35.00" height="356.00" fill="none" stroke="#000" stroke-width="2"/>
<text transform="matrix(0.9680 0 0 1 985.20 60.69)" font-size="31.30">10</text>
<text transform="matrix(0.9680 0 0 1 1017.03 51.80)" font-size="20.50" class="s">−0.5</text>
<text transform="matrix(0.9680 0 0 1 989.90 236.79)" font-size="31.30">10</text>
<text transform="matrix(0.9680 0 0 1 1021.63 228.10)" font-size="20.50" class="s">−1</text>
<text transform="matrix(0.9680 0 0 1 985.70 414.19)" font-size="31.30">10</text>
<text transform="matrix(0.9680 0 0 1 1017.03 405.80)" font-size="20.50" class="s">−1.5</text>
<text transform="matrix(0.9680 0 0 1 1544.52 60.59)" font-size="31.30">0.5</text>
<text transform="matrix(0.9680 0 0 1 1549.42 236.89)" font-size="31.30">0</text>
<text transform="matrix(0.9680 0 0 1 1543.52 414.79)" font-size="31.30">−0.5</text>
<rect x="945.50" y="502.00" width="35.00" height="356.00" fill="url(#gv)"/>
<rect x="978.10" y="502.00" width="1.2" height="356.00" fill="#fff" fill-opacity="0.6"/>
<path d="M980.50 680.00h-7" stroke="#000" stroke-width="2"/>
<rect x="945.50" y="502.00" width="35.00" height="356.00" fill="none" stroke="#000" stroke-width="2"/>
<rect x="1505.50" y="502.00" width="35.00" height="356.00" fill="url(#gb)"/>
<rect x="1506.50" y="502.00" width="1.0" height="356.00" fill="#9a9a9a" fill-opacity="0.75"/>
<path d="M1540.50 680.00h-7" stroke="#000" stroke-width="2"/>
<rect x="1505.50" y="502.00" width="35.00" height="356.00" fill="none" stroke="#000" stroke-width="2"/>
<text transform="matrix(0.9680 0 0 1 991.82 514.29)" font-size="31.30">0.5</text>
<text transform="matrix(0.9680 0 0 1 991.82 690.69)" font-size="31.30">0.25</text>
<text transform="matrix(0.9680 0 0 1 992.12 868.49)" font-size="31.30">0</text>
<text transform="matrix(0.9680 0 0 1 1544.52 514.67)" font-size="31.30">0.5</text>
<text transform="matrix(0.9680 0 0 1 1549.42 690.97)" font-size="31.30">0</text>
<text transform="matrix(0.9680 0 0 1 1543.52 868.87)" font-size="31.30">−0.5</text>
</g></svg></body></html>
